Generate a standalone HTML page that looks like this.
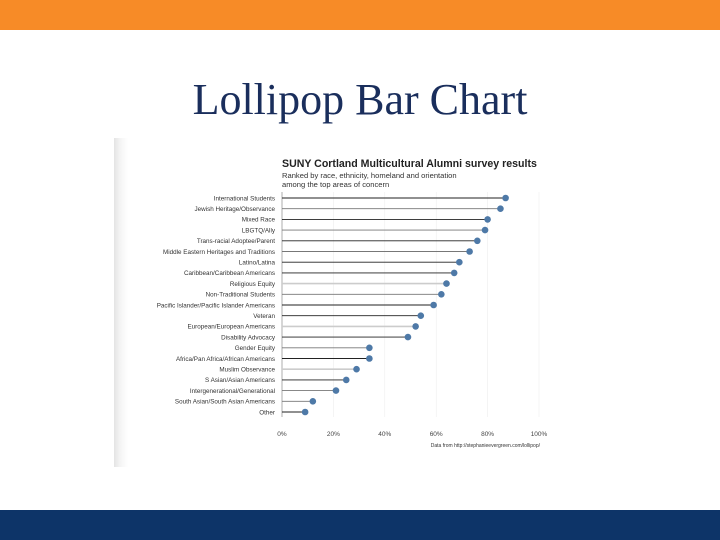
<!DOCTYPE html>
<html><head><meta charset="utf-8"><style>
body{margin:0;width:720px;height:540px;position:relative;background:#fff;overflow:hidden;font-family:"Liberation Sans",sans-serif}
#top{position:absolute;left:0;top:0;width:720px;height:30px;background:#f78b27}
#bot{position:absolute;left:0;top:510px;width:720px;height:30px;background:#0d3468}
#title{position:absolute;left:0;top:75px;width:720px;text-align:center;font-family:"Liberation Serif",serif;font-size:44px;line-height:50px;color:#1a2e5c}
#panel{position:absolute;left:114px;top:138px;width:446px;height:329px;background:linear-gradient(90deg,#e4e4e4 0,#f4f4f4 6px,#fff 14px)}
</style></head><body>
<div id="top"></div>
<div id="title">Lollipop Bar Chart</div>
<div id="panel"></div>
<svg id="chart" width="720" height="540" style="position:absolute;left:0;top:0">
<text x="282" y="167" font-size="10.6" font-weight="bold" fill="#222">SUNY Cortland Multicultural Alumni survey results</text>
<text x="282" y="178" font-size="7.6" fill="#333">Ranked by race, ethnicity, homeland and orientation</text>
<text x="282" y="187" font-size="7.6" fill="#333">among the top areas of concern</text>
<text x="540" y="447" font-size="5" text-anchor="end" fill="#333">Data from http://stephanieevergreen.com/lollipop/</text>
<g id="g"></g>
</svg>
<div id="bot"></div>
<script>
const categories=["International Students","Jewish Heritage/Observance","Mixed Race","LBGTQ/Ally","Trans-racial Adoptee/Parent","Middle Eastern Heritages and Traditions","Latino/Latina","Caribbean/Caribbean Americans","Religious Equity","Non-Traditional Students","Pacific Islander/Pacific Islander Americans","Veteran","European/European Americans","Disability Advocacy","Gender Equity","Africa/Pan Africa/African Americans","Muslim Observance","S Asian/Asian Americans","Intergenerational/Generational","South Asian/South Asian Americans","Other"];
const values=[87,85,80,79,76,73,69,67,64,62,59,54,52,49,34,34,29,25,21,12,9];
const lineShades=[0,1,0,1,0,1,0,0,2,1,0,0,2,0,1,0,2,0,1,1,0];
const ticks=[0,20,40,60,80,100];
const tickLabels=["0%","20%","40%","60%","80%","100%"];
const ns="http://www.w3.org/2000/svg",g=document.getElementById('g');
const x=v=>282+v*2.57, y=i=>198+i*10.7;
const cols=["#222","#777","#ccc"];
function mk(t,a){const e=document.createElementNS(ns,t);for(const k in a)e.setAttribute(k,a[k]);g.appendChild(e);return e;}
ticks.forEach((t,i)=>{
 if(i>0){const l=mk('line',{x1:x(t),x2:x(t),y1:192,y2:417,stroke:'#eee','stroke-width':0.6});
 }
 const tx=mk('text',{x:x(t),y:436,'font-size':6.5,'text-anchor':'middle',fill:'#444'});tx.textContent=tickLabels[i];
 
});
const ax=mk('line',{x1:282,x2:282,y1:192,y2:417,stroke:'#999','stroke-width':0.8});

categories.forEach((c,i)=>{
 const lb=mk('text',{x:275,y:y(i)+2.3,'font-size':6.3,'text-anchor':'end',fill:'#333'});lb.textContent=c;
 
 const st=mk('line',{x1:282,x2:x(values[i]),y1:y(i),y2:y(i),stroke:cols[lineShades[i]],'stroke-width':lineShades[i]==2?1.6:0.9});
 
 const d=mk('circle',{cx:x(values[i]),cy:y(i),r:3.3,fill:'#4e79a7'});
 
});
</script>
</body></html>
